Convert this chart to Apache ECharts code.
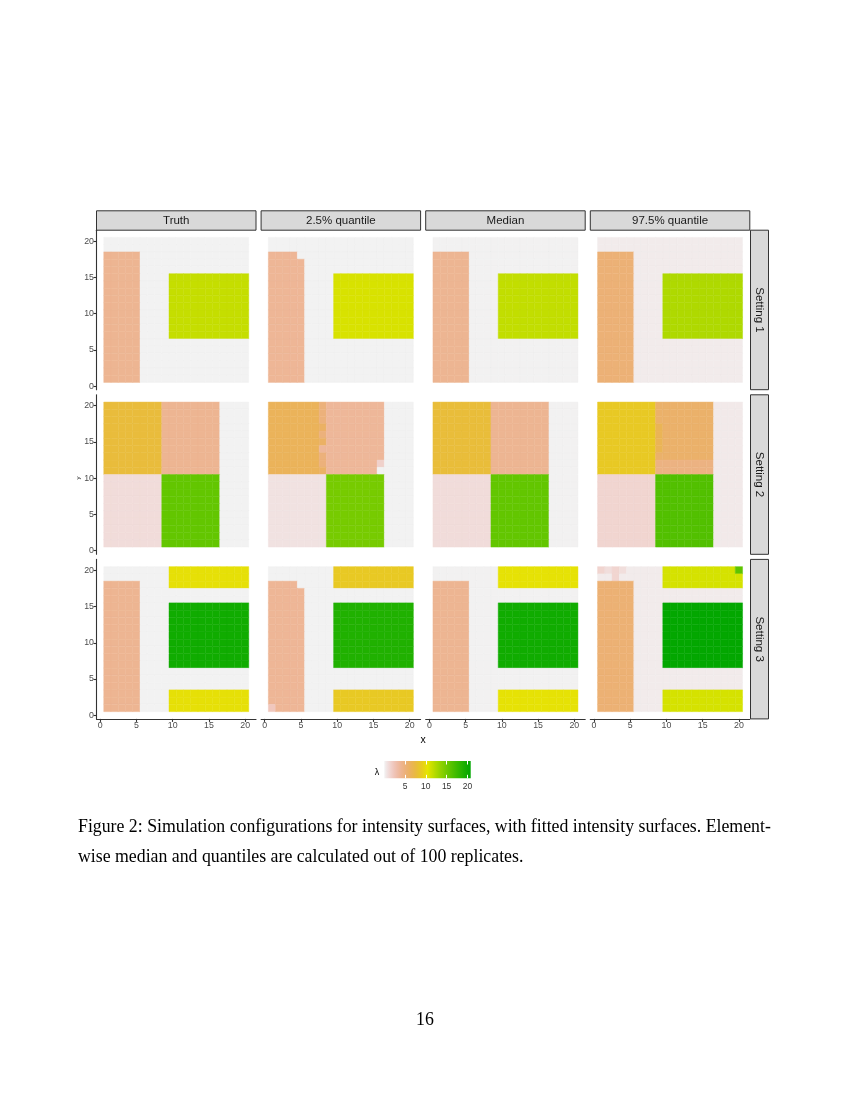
<!DOCTYPE html>
<html><head><meta charset="utf-8">
<script src="https://cdn.jsdelivr.net/npm/echarts@6/dist/echarts.min.js"></script>
<style>html,body{margin:0;padding:0;background:#fff}#c{width:850px;height:1100px}</style>
</head><body><div id="c"></div>
<script>
// ---------------- DATA ----------------
const colLabels = ['Truth', '2.5% quantile', 'Median', '97.5% quantile'];
const rowLabels = ['Setting 1', 'Setting 2', 'Setting 3'];
const axisTickValues = [0, 5, 10, 15, 20];
const legendTickValues = [5, 10, 15, 20];
const lambdaRange = [0, 20.8];

// Grids: run-length rows, listed from y = 20 (top) down to y = 1; cells x = 1..20
const s1Rows = ['20.', '20.', '5p15.', '5p15.', '5p15.',
  '5p4.11g', '5p4.11g', '5p4.11g', '5p4.11g', '5p4.11g', '5p4.11g', '5p4.11g', '5p4.11g', '5p4.11g',
  '5p15.', '5p15.', '5p15.', '5p15.', '5p15.', '5p15.'];
const s1LowRows = ['20.', '20.', '4p16.', '5p15.', '5p15.',
  '5p4.11g', '5p4.11g', '5p4.11g', '5p4.11g', '5p4.11g', '5p4.11g', '5p4.11g', '5p4.11g', '5p4.11g',
  '5p15.', '5p15.', '5p15.', '5p15.', '5p15.', '5p15.'];
const s2Rows = ['8o8p4.', '8o8p4.', '8o8p4.', '8o8p4.', '8o8p4.', '8o8p4.', '8o8p4.', '8o8p4.', '8o8p4.', '8o8p4.',
  '8l8g4.', '8l8g4.', '8l8g4.', '8l8g4.', '8l8g4.', '8l8g4.', '8l8g4.', '8l8g4.', '8l8g4.', '8l8g4.'];
const s2LowRows = ['7o1q8p4.', '7o1q8p4.', '7o1q8p4.', '7o1r8p4.', '7o1q8p4.', '7o1r8p4.', '7o9p4.', '7o1q8p4.', '7o1q7p1w4.', '7o1r7p5.',
  '8l8g4.', '8l8g4.', '8l8g4.', '8l8g4.', '8l8g4.', '8l8g4.', '8l8g4.', '8l8g4.', '8l8g4.', '8l8g4.'];
const s2HighRows = ['8o8p4.', '8o8p4.', '8o8p4.', '8o1r7p4.', '8o1r7p4.', '8o1r7p4.', '8o1r7p4.', '8o8p4.', '8o8q4.', '8o8q4.',
  '8l8g4.', '8l8g4.', '8l8g4.', '8l8g4.', '8l8g4.', '8l8g4.', '8l8g4.', '8l8g4.', '8l8g4.', '8l8g4.'];
const s3Rows = ['9.11y', '9.11y', '5p4.11y', '5p15.', '5p15.',
  '5p4.11g', '5p4.11g', '5p4.11g', '5p4.11g', '5p4.11g', '5p4.11g', '5p4.11g', '5p4.11g', '5p4.11g',
  '5p15.', '5p15.', '5p15.', '5p4.11y', '5p4.11y', '5p4.11y'];
const s3LowRows = ['9.11y', '9.11y', '4p5.11y', '5p15.', '5p15.',
  '5p4.11g', '5p4.11g', '5p4.11g', '5p4.11g', '5p4.11g', '5p4.11g', '5p4.11g', '5p4.11g', '5p4.11g',
  '5p15.', '5p15.', '5p15.', '5p4.11y', '5p4.11y', '1w4p4.11y'];
const s3HighRows = ['1w1v1w1v5.10y1G', '2.1w6.11y', '5p4.11y', '5p15.', '5p15.',
  '5p4.11g', '5p4.11g', '5p4.11g', '5p4.11g', '5p4.11g', '5p4.11g', '5p4.11g', '5p4.11g', '5p4.11g',
  '5p15.', '5p15.', '5p15.', '5p4.11y', '5p4.11y', '5p4.11y'];

// Levels (lambda) per panel
const s1TruthLevels = {'.': 0.02, p: 4.0, g: 11.6};
const s1LowLevels = {'.': 0.02, p: 3.8, g: 10.9};
const s1MedianLevels = {'.': 0.05, p: 4.0, g: 11.7};
const s1HighLevels = {'.': 0.3, p: 5.2, g: 12.4};
const s2TruthLevels = {'.': 0.02, o: 7.7, p: 4.0, l: 1.0, g: 15.6};
const s2LowLevels = {'.': 0.02, o: 6.4, p: 3.7, q: 5.0, r: 6.0, w: 1.6, l: 0.7, g: 14.7};
const s2MedianLevels = {'.': 0.05, o: 7.8, p: 4.0, l: 1.0, g: 15.6};
const s2HighLevels = {'.': 0.4, o: 8.8, p: 5.7, q: 4.7, r: 6.6, l: 1.4, g: 16.4};
const s3TruthLevels = {'.': 0.02, p: 4.0, y: 10.1, g: 19.8};
const s3LowLevels = {'.': 0.02, p: 3.8, y: 8.8, g: 18.9, w: 2.2};
const s3MedianLevels = {'.': 0.05, p: 4.0, y: 10.2, g: 19.8};
const s3HighLevels = {'.': 0.3, p: 5.3, y: 11.0, g: 20.6, G: 15.8, w: 1.4, v: 0.9};

const panelSpecs = [
  [s1Rows, s1TruthLevels], [s1LowRows, s1LowLevels], [s1Rows, s1MedianLevels], [s1Rows, s1HighLevels],
  [s2Rows, s2TruthLevels], [s2LowRows, s2LowLevels], [s2Rows, s2MedianLevels], [s2HighRows, s2HighLevels],
  [s3Rows, s3TruthLevels], [s3LowRows, s3LowLevels], [s3Rows, s3MedianLevels], [s3HighRows, s3HighLevels]
];

// ---------------- LAYOUT / STYLE ----------------
const panelLeft = [96.5, 261.1, 425.7, 590.3];
const panelTop = [230.2, 394.8, 559.4];
const panelSize = 159.5;
const sans = 'Liberation Sans, Arial, sans-serif';
const serif = 'Liberation Serif, Times New Roman, serif';

function decodeRows(rows, levels) {
  const out = [];
  rows.forEach((row, r) => {
    const y = rows.length - r;
    let x = 1;
    const re = /(\d+)(\D)/g;
    let m;
    while ((m = re.exec(row))) {
      const n = +m[1], v = levels[m[2]];
      for (let k = 0; k < n; k++) { out.push([x, y, v]); x++; }
    }
  });
  return out;
}

function hsvHex(h, s, v) {
  const c = v * s, hp = h / 60, xx = c * (1 - Math.abs(hp % 2 - 1)), m = v - c;
  let r, g, b;
  if (hp < 1) { r = c; g = xx; b = 0; } else if (hp < 2) { r = xx; g = c; b = 0; } else { r = 0; g = c; b = xx; }
  const f = t => Math.round((t + m) * 255).toString(16).padStart(2, '0');
  return '#' + f(r) + f(g) + f(b);
}
// reversed terrain palette: low lambda -> light grey, high -> green
function terrainAt(u) {
  const p = 1 - u;
  let h, s, v;
  if (p <= 0.5) { const q = p / 0.5; h = 120 - 60 * q; s = 1; v = 0.65 + 0.25 * q; }
  else { const q = (p - 0.5) / 0.5; h = 60 - 60 * q; s = 1 - q; v = 0.9 + 0.05 * q; }
  return hsvHex(h, s, v);
}
const NSTOP = 60;
const paletteColors = [];
const gradientStops = [];
for (let i = 0; i <= NSTOP; i++) {
  const u = i / NSTOP;
  paletteColors.push(terrainAt(u));
  gradientStops.push({offset: u, color: terrainAt(u)});
}

const chart = echarts.init(document.getElementById('c'), null, {renderer: 'canvas', width: 850, height: 1100});

const grids = [], xAxes = [], yAxes = [], series = [];
const axisLineStyle = {color: '#333333', width: 1.1};
panelSpecs.forEach((spec, idx) => {
  const r = Math.floor(idx / 4), c = idx % 4;
  grids.push({left: panelLeft[c], top: panelTop[r], width: panelSize, height: panelSize});
  xAxes.push({
    gridIndex: idx, type: 'value', min: -0.5, max: 21.5, show: r === 2,
    axisLine: {onZero: false, lineStyle: axisLineStyle},
    axisTick: {customValues: axisTickValues, length: 3, lineStyle: axisLineStyle},
    axisLabel: {customValues: axisTickValues, fontSize: 8.8, color: '#4D4D4D', margin: 2.5, fontFamily: sans},
    splitLine: {show: false}
  });
  yAxes.push({
    gridIndex: idx, type: 'value', min: -0.5, max: 21.5, show: c === 0,
    axisLine: {onZero: false, lineStyle: axisLineStyle},
    axisTick: {customValues: axisTickValues, length: 3, lineStyle: axisLineStyle},
    axisLabel: {customValues: axisTickValues, fontSize: 8.8, color: '#4D4D4D', margin: 2.5, fontFamily: sans},
    splitLine: {show: false}
  });
  series.push({
    type: 'custom', xAxisIndex: idx, yAxisIndex: idx, silent: true,
    data: decodeRows(spec[0], spec[1]),
    encode: {x: 0, y: 1},
    renderItem: function (params, api) {
      const x = api.value(0), y = api.value(1);
      const p0 = api.coord([x - 0.5, y + 0.5]);
      const p1 = api.coord([x + 0.5, y - 0.5]);
      const col = api.visual('color');
      return {type: 'rect', shape: {x: p0[0], y: p0[1], width: p1[0] - p0[0], height: p1[1] - p0[1]},
        style: {fill: col, stroke: col, lineWidth: 0.45}};
    }
  });
});

// colour bar legend
const LG = 12;
grids.push({left: 384.3, top: 761, width: 86.4, height: 17.3});
xAxes.push({
  gridIndex: LG, type: 'value', min: lambdaRange[0], max: lambdaRange[1], position: 'bottom', z: 10,
  axisLine: {show: false},
  axisTick: {customValues: legendTickValues, inside: true, length: 3.5, lineStyle: {color: '#ffffff', width: 1}},
  axisLabel: {customValues: legendTickValues, fontSize: 8.5, color: '#333', margin: 4, fontFamily: sans},
  splitLine: {show: false}
});
xAxes.push({
  gridIndex: LG, type: 'value', min: lambdaRange[0], max: lambdaRange[1], position: 'top', z: 10,
  axisLine: {show: false},
  axisTick: {customValues: legendTickValues, inside: true, length: 3.5, lineStyle: {color: '#ffffff', width: 1}},
  axisLabel: {show: false},
  splitLine: {show: false}
});
yAxes.push({gridIndex: LG, type: 'value', min: 0, max: 1, show: false});
series.push({
  type: 'custom', xAxisIndex: LG, yAxisIndex: LG, silent: true,
  data: [[lambdaRange[0], lambdaRange[1]]],
  renderItem: function (params, api) {
    const p0 = api.coord([api.value(0), 1]);
    const p1 = api.coord([api.value(1), 0]);
    return {type: 'rect', shape: {x: p0[0], y: p0[1], width: p1[0] - p0[0], height: p1[1] - p0[1]},
      style: {fill: new echarts.graphic.LinearGradient(0, 0, 1, 0, gradientStops)}};
  }
});

// strips and texts
const graphics = [];
colLabels.forEach((lab, c) => {
  graphics.push({type: 'rect', silent: true, shape: {x: panelLeft[c], y: 210.8, width: panelSize, height: 19.4},
    style: {fill: '#D9D9D9', stroke: '#333333', lineWidth: 1}});
  graphics.push({type: 'text', silent: true, style: {text: lab, x: panelLeft[c] + panelSize / 2, y: 220.8,
    font: '11.5px ' + sans, fill: '#1A1A1A', textAlign: 'center', textVerticalAlign: 'middle'}});
});
rowLabels.forEach((lab, r) => {
  graphics.push({type: 'rect', silent: true, shape: {x: 750.5, y: panelTop[r], width: 18, height: panelSize},
    style: {fill: '#D9D9D9', stroke: '#333333', lineWidth: 1}});
  graphics.push({type: 'text', silent: true, x: 759.5, y: panelTop[r] + panelSize / 2, rotation: -Math.PI / 2,
    style: {text: lab, x: 0, y: 0, font: '11.5px ' + sans, fill: '#1A1A1A', textAlign: 'center', textVerticalAlign: 'middle'}});
});
graphics.push({type: 'text', silent: true, style: {text: 'x', x: 423, y: 740, font: '10.5px ' + sans, fill: '#000',
  textAlign: 'center', textVerticalAlign: 'middle'}});
graphics.push({type: 'text', silent: true, x: 78.5, y: 478, rotation: Math.PI / 2,
  style: {text: 'y', x: 0, y: 0, font: '6px ' + sans, fill: '#000', textAlign: 'center', textVerticalAlign: 'middle'}});
graphics.push({type: 'text', silent: true, style: {text: 'λ', x: 377, y: 773, font: '9px ' + sans, fill: '#000',
  textAlign: 'center', textVerticalAlign: 'middle'}});
graphics.push({type: 'text', silent: true, style: {
  text: 'Figure 2: Simulation configurations for intensity surfaces, with fitted intensity surfaces. Element-',
  x: 78, y: 827, font: '17.8px ' + serif, fill: '#000', textAlign: 'left', textVerticalAlign: 'middle'}});
graphics.push({type: 'text', silent: true, style: {
  text: 'wise median and quantiles are calculated out of 100 replicates.',
  x: 78, y: 857, font: '17.8px ' + serif, fill: '#000', textAlign: 'left', textVerticalAlign: 'middle'}});
graphics.push({type: 'text', silent: true, style: {text: '16', x: 425, y: 1020, font: '17.8px ' + serif, fill: '#000',
  textAlign: 'center', textVerticalAlign: 'middle'}});

chart.setOption({
  backgroundColor: '#ffffff',
  animation: false,
  grid: grids,
  xAxis: xAxes,
  yAxis: yAxes,
  visualMap: {
    type: 'continuous', show: false, min: lambdaRange[0], max: lambdaRange[1], dimension: 2,
    seriesIndex: panelSpecs.map((_, i) => i),
    inRange: {color: paletteColors}
  },
  series: series,
  graphic: graphics
});
</script></body></html>
